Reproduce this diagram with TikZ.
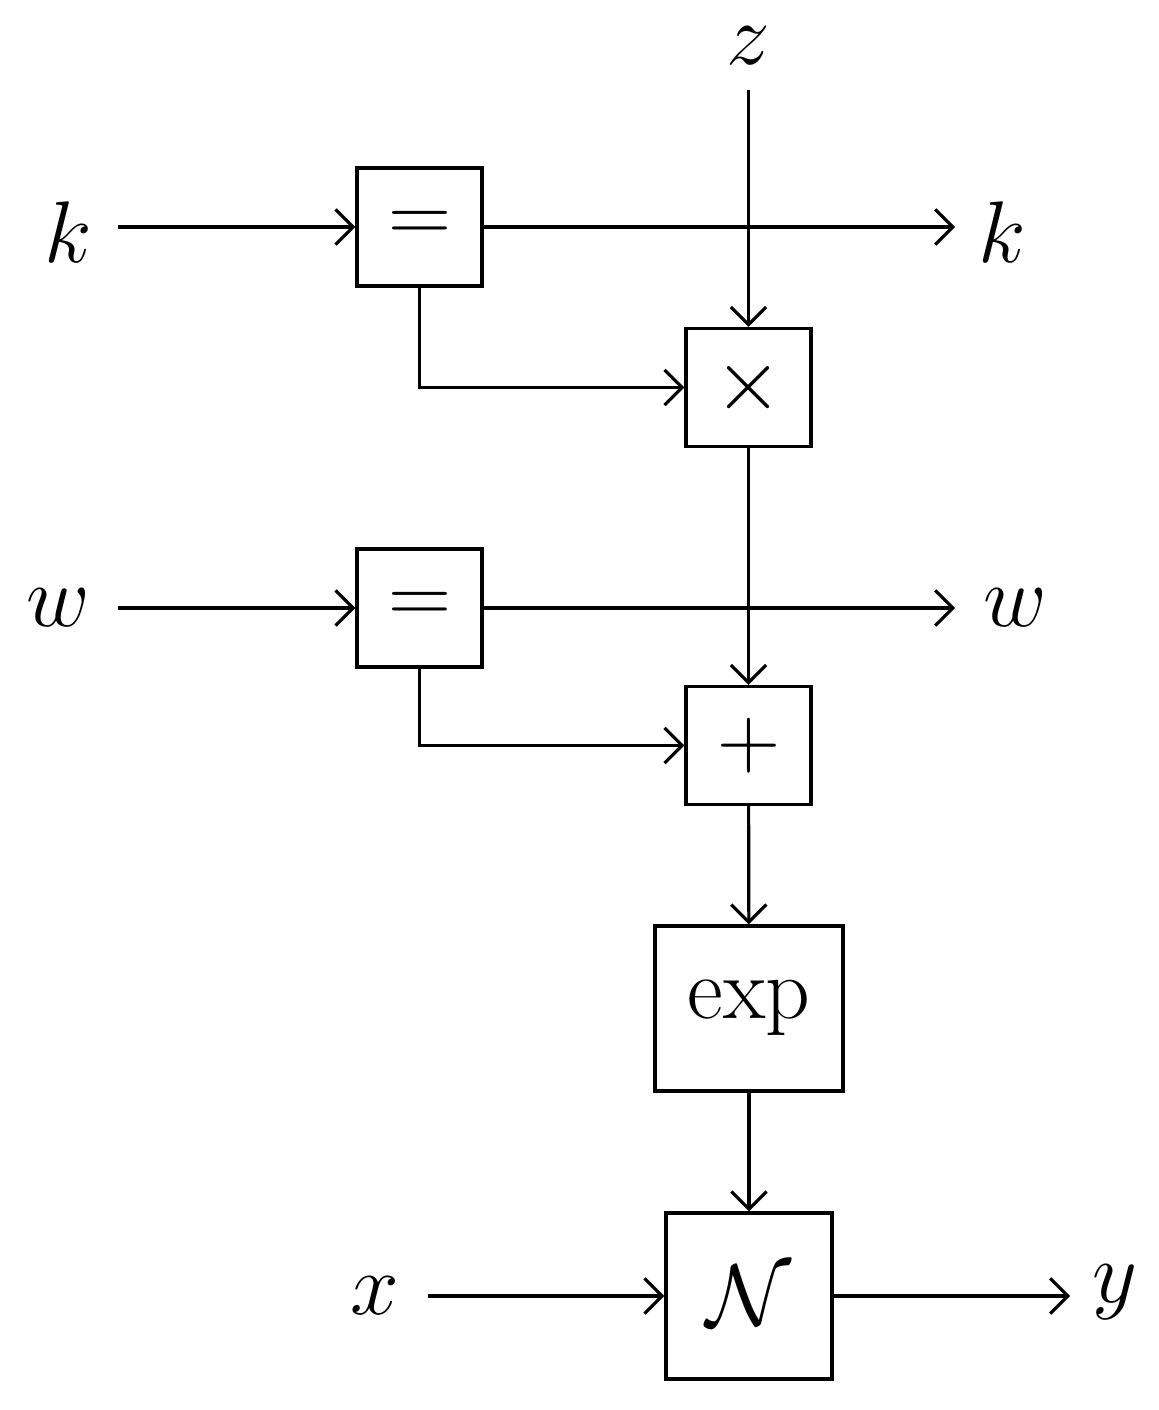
\documentclass[tikz,border=0pt]{standalone}
\usetikzlibrary{arrows.meta}
\begin{document}
\begin{tikzpicture}[x=0.01cm,y=-0.01cm,line width=0.9pt,
  box/.style={draw,minimum width=1.25cm,minimum height=1.18cm,inner sep=0,font=\fontsize{24}{28}\selectfont},
  lab/.style={font=\fontsize{25}{30}\selectfont,inner sep=0},
  arr/.style={-{Straight Barb[length=5pt,width=10pt]}}]
\useasboundingbox (0,0) rectangle (1158,1410);
\node[box] (eq1) at (419.5,227) {$=$};
\node[box] (mul) at (748.5,387.5) {$\times$};
\node[box] (eq2) at (419.5,608) {$=$};
\node[box] (plus) at (748.5,745.5) {$+$};
\node[box,minimum width=1.88cm,minimum height=1.65cm,font=\fontsize{25}{30}\selectfont] (exp) at (749,1008.5) {$\exp$};
\node[box,minimum width=1.66cm,minimum height=1.66cm,font=\fontsize{25}{30}\selectfont] (N) at (749,1296) {$\mathcal{N}$};
\node[lab] (kl) at (68,232) {$k$};
\node[lab] (kr) at (1002,232) {$k$};
\node[lab] (z) at (748,46) {$z$};
\node[lab] (wl) at (58,608) {$w$};
\node[lab] (wr) at (1015,608) {$w$};
\node[lab] (x) at (375,1296) {$x$};
\node[lab] (y) at (1115,1292) {$y$};
\coordinate (kls) at (118,227);
\coordinate (kre) at (955,227);
\coordinate (zs) at (748.5,90);
\coordinate (wls) at (118,608);
\coordinate (wre) at (955,608);
\coordinate (xs) at (428,1296);
\coordinate (ye) at (1070,1296);
\draw[arr] (kls) -- (eq1);
\draw[arr] (eq1) -- (kre);
\draw[arr] (zs) -- (mul);
\draw[arr] (eq1.south) |- (mul);
\draw[arr] (mul) -- (plus);
\draw[arr] (wls) -- (eq2);
\draw[arr] (eq2) -- (wre);
\draw[arr] (eq2.south) |- (plus);
\draw[arr] (plus) -- (exp);
\draw[arr] (exp) -- (N);
\draw[arr] (xs) -- (N);
\draw[arr] (N) -- (ye);
\end{tikzpicture}
\end{document}
